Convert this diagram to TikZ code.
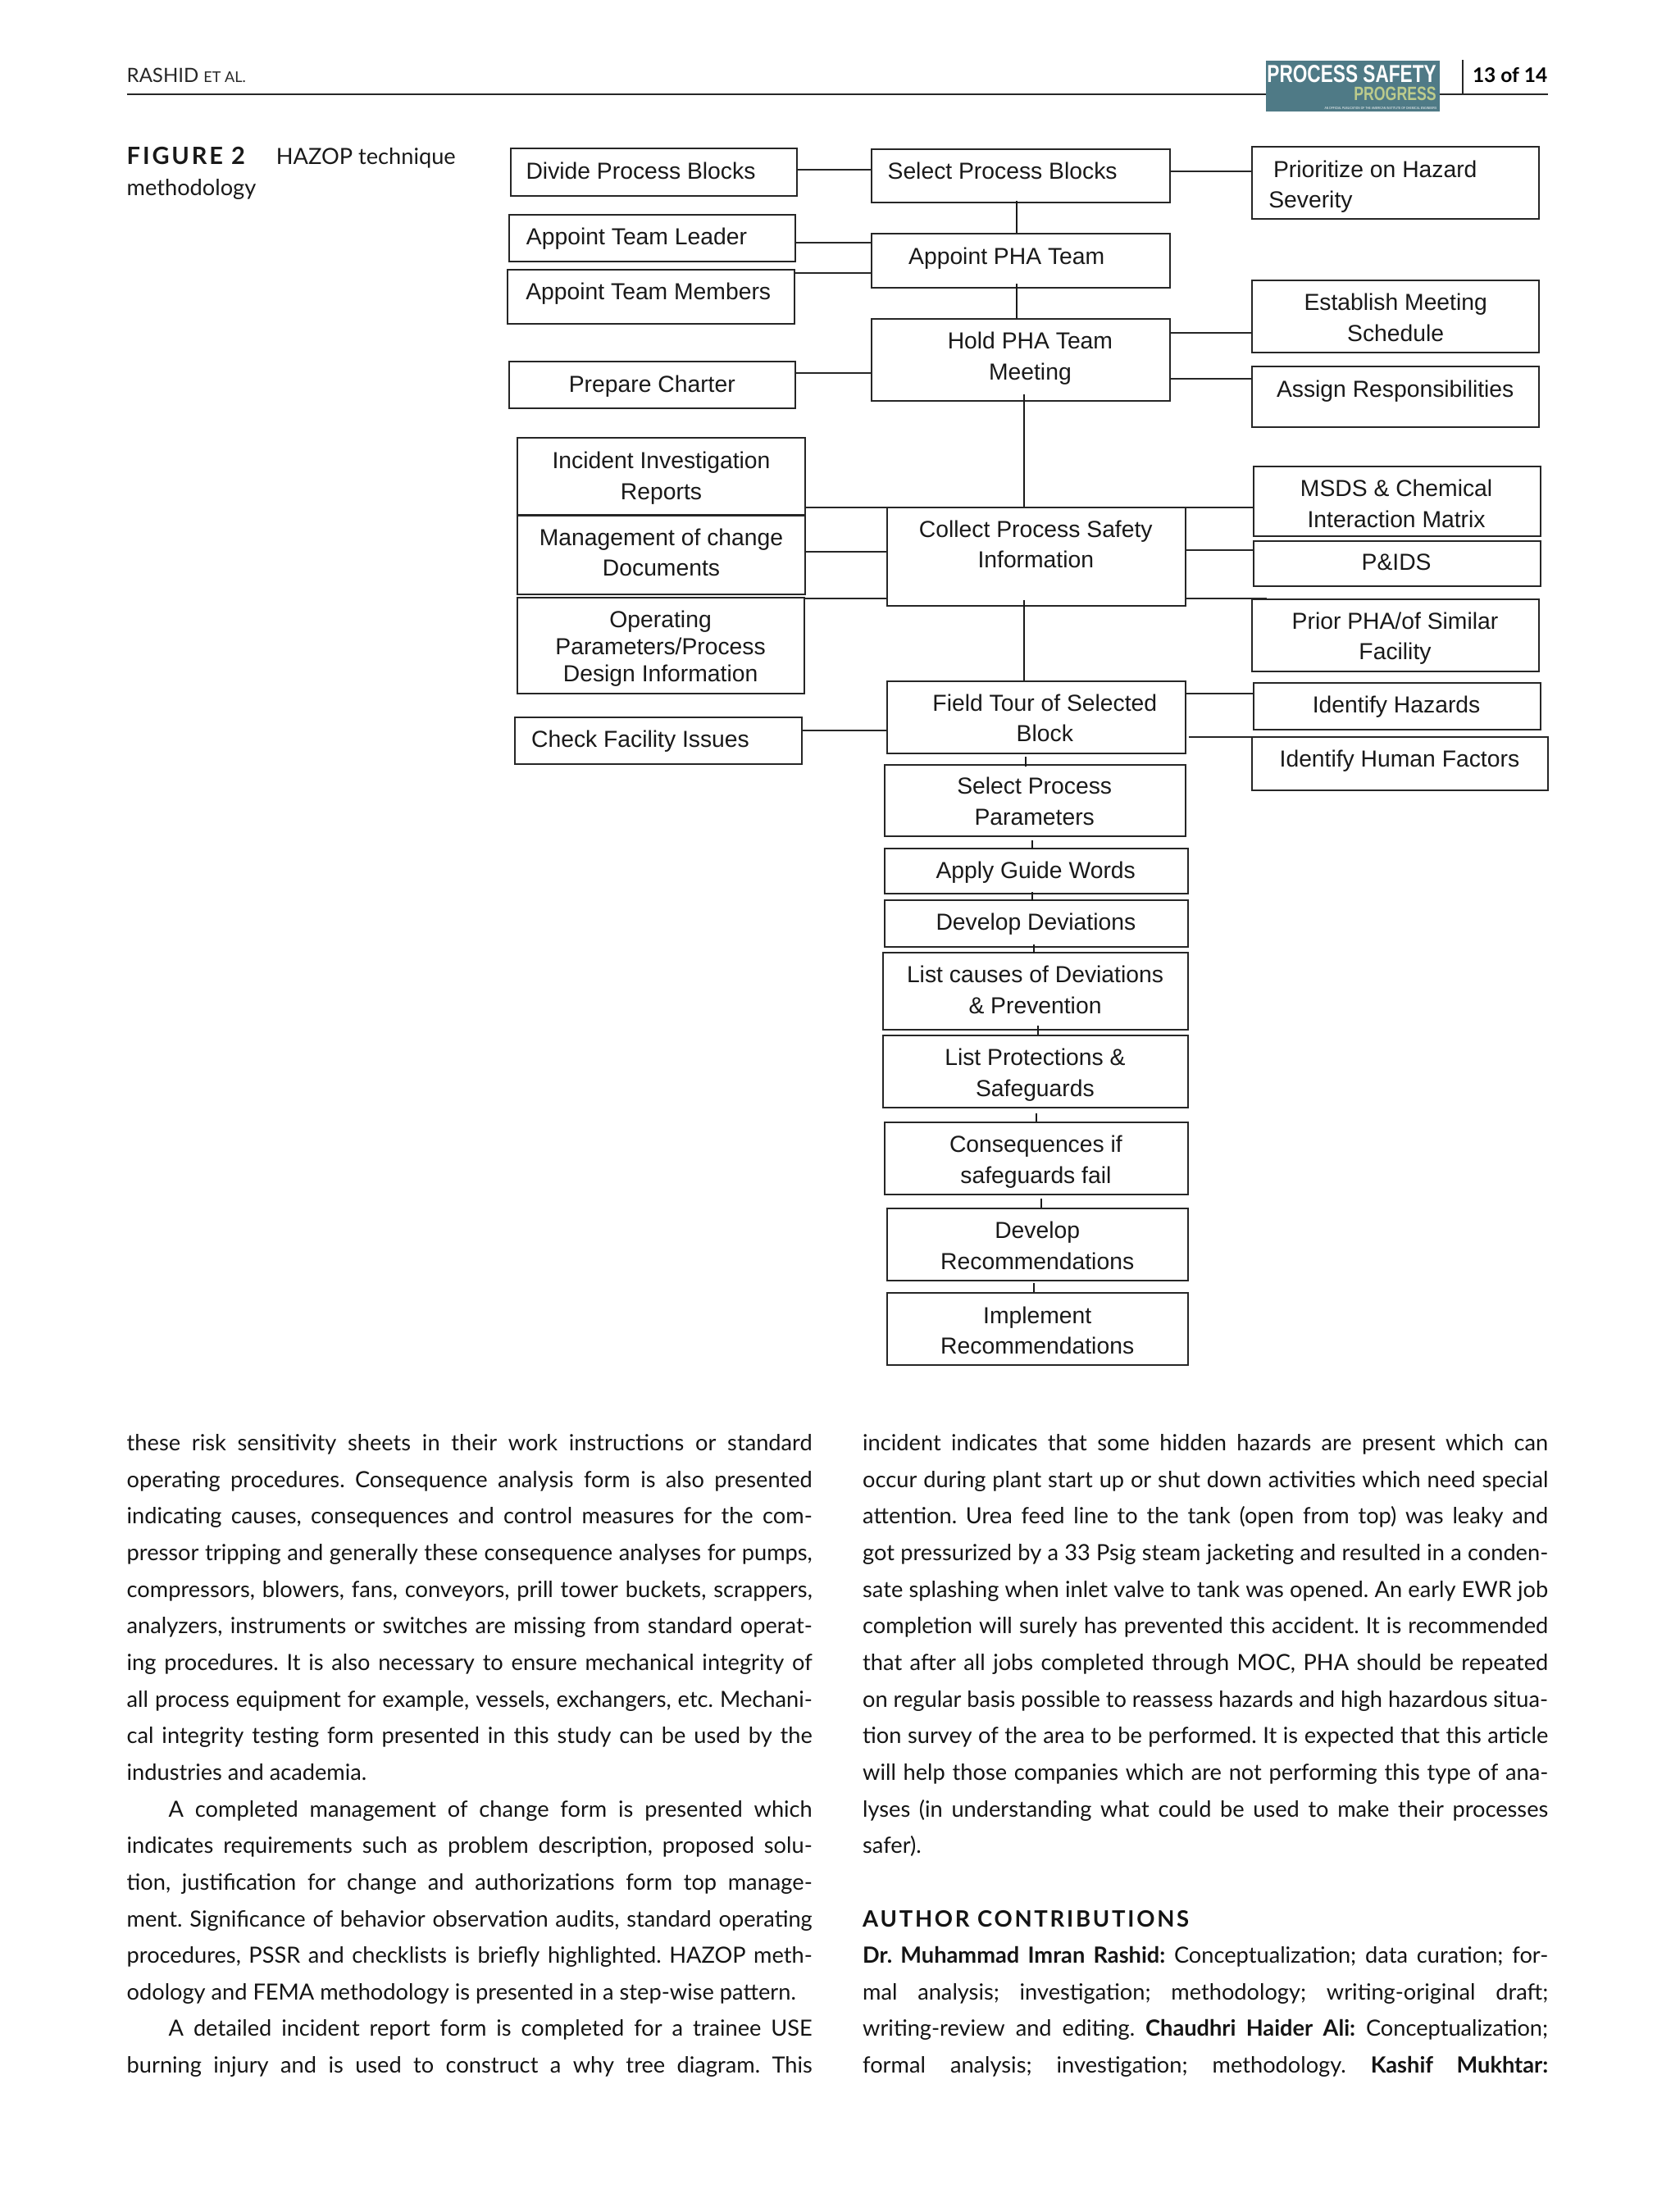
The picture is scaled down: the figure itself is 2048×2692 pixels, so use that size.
\documentclass[tikz,border=0pt]{standalone}
\usepackage{fontspec}
\usepackage{xcolor}
\usetikzlibrary{calc}
\setmainfont{Lato}
\newfontfamily\figfont{Liberation Sans}
\newfontfamily\logofont[FakeStretch=0.755]{Liberation Sans Bold}
\newfontfamily\logosmall[FakeStretch=0.77]{Liberation Sans}
\newfontfamily\capsfont[LetterSpace=10]{Lato}
\definecolor{logoteal}{HTML}{4F7A86}
\definecolor{logogreen}{HTML}{BCCB8C}
\frenchspacing
% box text: x offset, y offset (down), lines
\newcommand{\boxtxt}[4][c]{\raisebox{\dimexpr 1pt-#3pt\relax}[0pt][0pt]{\makebox[0pt]{\kern#2pt\kern#2pt\begin{tabular}{@{}#1@{}}#4\end{tabular}}}}
\newcommand{\bodyline}[1]{\makebox[836pt][s]{\strut #1}\\}
\tikzset{
  hbox/.style={draw=black!85, line width=2pt, rectangle, inner sep=0pt, text=black!90, font=\figfont\fontsize{28.3}{37.5}\selectfont},
  hlink/.style={draw=black!85, line width=2.2pt},
  vlink/.style={draw=black!90, line width=1.9pt},
  bodytext/.style={anchor=north west, inner sep=0pt, text width=836pt, align=left, text=black!92, font=\fontsize{27.2}{44.65}\selectfont},
}
\begin{document}
\begin{tikzpicture}[x=1pt, y=-1pt]
\useasboundingbox (0,0) rectangle (2048,2692);
% Page header
\node[anchor=base west, inner sep=0pt, text=black!85, font=\fontsize{24}{30}\selectfont] (runhead) at (154.5,100.5) {RASHID {\fontsize{18}{30}\selectfont ET AL.}};
\draw[line width=2.2pt, black!85] (154.5,115) -- (1888,115);
\node[fill=logoteal, minimum width=212.3pt, minimum height=61.7pt, inner sep=0pt] (logo) at (1649.8,105.2) {};
\node[anchor=base east, inner sep=0pt, text=white, font=\logofont\fontsize{30}{30}\selectfont] (logotop) at (1752,100.7) {PROCESS SAFETY};
\node[anchor=base east, inner sep=0pt, text=logogreen, font=\logofont\fontsize{23.5}{22}\selectfont] (logomid) at (1752,122.5) {PROGRESS};
\node[anchor=base east, inner sep=0pt, text=white, font=\logosmall\fontsize{4.3}{5}\selectfont] (logolow) at (1752.5,134) {AN OFFICIAL PUBLICATION OF THE AMERICAN INSTITUTE OF CHEMICAL ENGINEERS};
\draw[line width=1.8pt, black!85] (1784,73.3) -- (1784,115);
\node[anchor=base east, inner sep=0pt, font=\bfseries\fontsize{24.5}{30}\selectfont] (pageno) at (1887.5,100.7) {13 of 14};
% Figure caption
\node[anchor=north west, inner sep=0pt, align=left, text=black!90, font=\fontsize{27.2}{37.7}\selectfont] (figcap) at (154.5,174) {\spaceskip=0pt\xspaceskip=0pt\strut{\capsfont\bfseries\fontsize{29}{37.7}\selectfont FIGURE 2}\hspace{38pt}HAZOP technique\\\strut methodology};
% First group
\node[hbox, minimum width=349pt, minimum height=57pt] (divideb) at (797,210) {\boxtxt{-15.5}{8.5}{Divide Process Blocks}};
\node[hbox, minimum width=364pt, minimum height=65pt] (selectb) at (1245.4,214.5) {\boxtxt{-22.8}{4}{Select Process Blocks}};
\node[hbox, minimum width=350pt, minimum height=88pt] (severityb) at (1702.2,222.9) {\boxtxt[l]{-27.8}{11.6}{\hspace*{5.7pt}Prioritize on Hazard\\Severity}};
\node[hbox, minimum width=349pt, minimum height=56.7pt] (leaderb) at (795.9,290.3) {\boxtxt{-19.4}{8}{Appoint Team Leader}};
\node[hbox, minimum width=350pt, minimum height=66.3pt] (membersb) at (794,362.2) {\boxtxt{-3.3}{3.5}{Appoint Team Members}};
\node[hbox, minimum width=364pt, minimum height=65.4pt] (phab) at (1245.4,318) {\boxtxt{-17.7}{4.3}{Appoint PHA Team}};
\node[hbox, minimum width=350pt, minimum height=88.6pt] (scheduleb) at (1702.2,386) {\boxtxt{0}{11}{Establish Meeting\\Schedule}};
\node[hbox, minimum width=364pt, minimum height=100pt] (holdb) at (1245.4,439) {\boxtxt{11}{5}{Hold PHA Team\\Meeting}};
\node[hbox, minimum width=349pt, minimum height=56.7pt] (charterb) at (795.9,469.3) {\boxtxt{-0.6}{8.7}{Prepare Charter}};
\node[hbox, minimum width=350pt, minimum height=73.4pt] (assignb) at (1702.2,484) {\boxtxt{-0.5}{0}{Assign Responsibilities}};
% Safety information group
\node[hbox, minimum width=351pt, minimum height=93.7pt] (incidentb) at (806.9,581.2) {\boxtxt{-0.4}{8.8}{Incident Investigation\\Reports}};
\node[hbox, minimum width=351pt, minimum height=96.3pt] (changeb) at (806.9,676.9) {\boxtxt{-0.4}{6.8}{Management of change\\Documents}};
\node[hbox, minimum width=350pt, minimum height=117pt] (operatingb) at (805.6,787.5) {\boxtxt{0}{10.5}{Operating\\[-4.7pt]Parameters/Process\\[-4.7pt]Design Information}};
\node[hbox, minimum width=364pt, minimum height=120pt] (collectb) at (1263.8,679) {\boxtxt{-0.5}{-5.2}{Collect Process Safety\\Information}};
\node[hbox, minimum width=350pt, minimum height=84.7pt] (msdsb) at (1703.6,611.7) {\boxtxt{-0.5}{12.6}{MSDS \& Chemical\\Interaction Matrix}};
\node[hbox, minimum width=350pt, minimum height=55.3pt] (pidsb) at (1703.6,687.4) {\boxtxt{-0.5}{7.6}{P\&IDS}};
\node[hbox, minimum width=350pt, minimum height=88pt] (priorb) at (1702,774.7) {\boxtxt{-0.5}{10.8}{Prior PHA/of Similar\\Facility}};
% Field tour group
\node[hbox, minimum width=350pt, minimum height=56.7pt] (checkb) at (803,903.7) {\boxtxt{-22}{8}{Check Facility Issues}};
\node[hbox, minimum width=364pt, minimum height=88pt] (fieldb) at (1263.8,874.7) {\boxtxt{10.5}{10.8}{Field Tour of Selected\\Block}};
\node[hbox, minimum width=350pt, minimum height=56.4pt] (hazardsb) at (1703.6,861.5) {\boxtxt{-0.5}{7.8}{Identify Hazards}};
\node[hbox, minimum width=360.7pt, minimum height=65pt] (humanb) at (1707.4,931.8) {\boxtxt{-0.5}{3.9}{Identify Human Factors}};
% Main column
\node[hbox, minimum width=366.7pt, minimum height=87.7pt] (paramsb) at (1262.4,976.5) {\boxtxt{-0.7}{10.8}{Select Process\\Parameters}};
\node[hbox, minimum width=370pt, minimum height=55.6pt] (guideb) at (1263.7,1062.4) {\boxtxt{-0.5}{8.5}{Apply Guide Words}};
\node[hbox, minimum width=369.7pt, minimum height=57pt] (deviationb) at (1263.9,1126) {\boxtxt{-0.5}{7.8}{Develop Deviations}};
\node[hbox, minimum width=371.4pt, minimum height=94pt] (causesb) at (1263,1209.4) {\boxtxt{-0.5}{7.6}{List causes of Deviations\\\& Prevention}};
\node[hbox, minimum width=371.7pt, minimum height=87.7pt] (protectb) at (1262.9,1306.7) {\boxtxt{-0.5}{11.3}{List Protections \&\\Safeguards}};
\node[hbox, minimum width=369.7pt, minimum height=87.6pt] (conseqb) at (1263.9,1413.2) {\boxtxt{-0.5}{10.8}{Consequences if\\safeguards fail}};
\node[hbox, minimum width=367pt, minimum height=87.7pt] (recomb) at (1265.2,1517.9) {\boxtxt{0}{11.1}{Develop\\Recommendations}};
\node[hbox, minimum width=367pt, minimum height=87.7pt] (implementb) at (1265.2,1620.8) {\boxtxt{0}{11.7}{Implement\\Recommendations}};
% Side links
\draw[hlink] (divideb.east |- 0,206.7) -- (selectb.west |- 0,206.7);
\draw[hlink] (selectb.east |- 0,209) -- (severityb.west |- 0,209);
\draw[hlink] (leaderb.east |- 0,295.7) -- (phab.west |- 0,295.7);
\draw[hlink] (membersb.east |- 0,333.3) -- (phab.west |- 0,333.3);
\draw[hlink] (holdb.east |- 0,406) -- (scheduleb.west |- 0,406);
\draw[hlink] (holdb.east |- 0,461.7) -- (assignb.west |- 0,461.7);
\draw[hlink] (charterb.east |- 0,454.7) -- (holdb.west |- 0,454.7);
\draw[hlink] (incidentb.east |- 0,618.7) -- (collectb.west |- 0,618.7);
\draw[hlink] (changeb.east |- 0,673) -- (collectb.west |- 0,673);
\draw[hlink, line width=1.8pt] (operatingb.east |- 0,730.3) -- (collectb.west |- 0,730.3);
\draw[hlink] (collectb.east |- 0,618.7) -- (msdsb.west |- 0,618.7);
\draw[hlink] (collectb.east |- 0,671.3) -- (pidsb.west |- 0,671.3);
\draw[hlink, line width=1.8pt] (collectb.east |- 0,730) -- (1545,730);
\draw[hlink] (checkb.east |- 0,890.7) -- (fieldb.west |- 0,890.7);
\draw[hlink] (fieldb.east |- 0,846.3) -- (hazardsb.west |- 0,846.3);
\draw[hlink, line width=1.8pt] ($(fieldb.east |- 0,899.3)+(3,0)$) -- (humanb.west |- 0,899.3);
% Vertical links
\draw[vlink] ($(1240.2,0 |- selectb.south)+(0,-3)$) -- (1240.2,0 |- phab.north);
\draw[vlink] ($(1240.2,0 |- phab.south)+(0,-5.7)$) -- (1240.2,0 |- holdb.north);
\draw[vlink] ($(1249.4,0 |- holdb.south)+(0,-9)$) -- (1249.4,0 |- collectb.north);
\draw[vlink] ($(1249.4,0 |- collectb.south)+(0,-8.3)$) -- (1249.4,0 |- fieldb.north);
\draw[vlink] ($(1251,0 |- fieldb.south)+(0,3.6)$) -- ($(1251,0 |- paramsb.north)+(0,3.3)$);
\draw[vlink] ($(1259,0 |- paramsb.south)+(0,4)$) -- ($(1259,0 |- guideb.north)+(0,2)$);
\draw[vlink] ($(1259,0 |- guideb.south)+(0,-3)$) -- ($(1259,0 |- deviationb.north)+(0,2)$);
\draw[vlink] ($(1261,0 |- deviationb.south)+(0,-3.5)$) -- ($(1261,0 |- causesb.north)+(0,1.4)$);
\draw[vlink] ($(1266.3,0 |- causesb.south)+(0,-6.4)$) -- (1266.3,0 |- protectb.north);
\draw[vlink] ($(1264.3,0 |- protectb.south)+(0,6)$) -- (1264.3,0 |- conseqb.north);
\draw[vlink] ($(1270,0 |- conseqb.south)+(0,3.7)$) -- (1270,0 |- recomb.north);
\draw[vlink] ($(1260.7,0 |- recomb.south)+(0,2.3)$) -- (1260.7,0 |- implementb.north);
% Text columns
\node[bodytext] (leftcol) at (154.5,1738.1) {\spaceskip=0pt\xspaceskip=0pt
\bodyline{these risk sensitivity sheets in their work instructions or standard}
\bodyline{operating procedures. Consequence analysis form is also presented}
\bodyline{indicating causes, consequences and control measures for the com-}
\bodyline{pressor tripping and generally these consequence analyses for pumps,}
\bodyline{compressors, blowers, fans, conveyors, prill tower buckets, scrappers,}
\bodyline{analyzers, instruments or switches are missing from standard operat-}
\bodyline{ing procedures. It is also necessary to ensure mechanical integrity of}
\bodyline{all process equipment for example, vessels, exchangers, etc. Mechani-}
\bodyline{cal integrity testing form presented in this study can be used by the}
\strut industries and academia.\\
\bodyline{\hspace*{51pt}A completed management of change form is presented which}
\bodyline{indicates requirements such as problem description, proposed solu-}
\bodyline{tion, justification for change and authorizations form top manage-}
\bodyline{ment. Significance of behavior observation audits, standard operating}
\bodyline{procedures, PSSR and checklists is briefly highlighted. HAZOP meth-}
\strut odology and FEMA methodology is presented in a step-wise pattern.\\
\bodyline{\hspace*{51pt}A detailed incident report form is completed for a trainee USE}
\bodyline{burning injury and is used to construct a why tree diagram. This}};
\node[bodytext] (rightcol) at (1052,1738.1) {\spaceskip=0pt\xspaceskip=0pt
\bodyline{incident indicates that some hidden hazards are present which can}
\bodyline{occur during plant start up or shut down activities which need special}
\bodyline{attention. Urea feed line to the tank (open from top) was leaky and}
\bodyline{got pressurized by a 33 Psig steam jacketing and resulted in a conden-}
\bodyline{sate splashing when inlet valve to tank was opened. An early EWR job}
\bodyline{completion will surely has prevented this accident. It is recommended}
\bodyline{that after all jobs completed through MOC, PHA should be repeated}
\bodyline{on regular basis possible to reassess hazards and high hazardous situa-}
\bodyline{tion survey of the area to be performed. It is expected that this article}
\bodyline{will help those companies which are not performing this type of ana-}
\bodyline{lyses (in understanding what could be used to make their processes}
\strut safer).\\
\strut\\
\strut{\capsfont\bfseries\fontsize{27.5}{44.65}\selectfont AUTHOR CONTRIBUTIONS}\\
\bodyline{\textbf{Dr. Muhammad Imran Rashid:} Conceptualization; data curation; for-}
\bodyline{mal analysis; investigation; methodology; writing-original draft;}
\bodyline{writing-review and editing. \textbf{Chaudhri Haider Ali:} Conceptualization;}
\bodyline{formal analysis; investigation; methodology. \textbf{Kashif Mukhtar:}}};
\end{tikzpicture}
\end{document}
